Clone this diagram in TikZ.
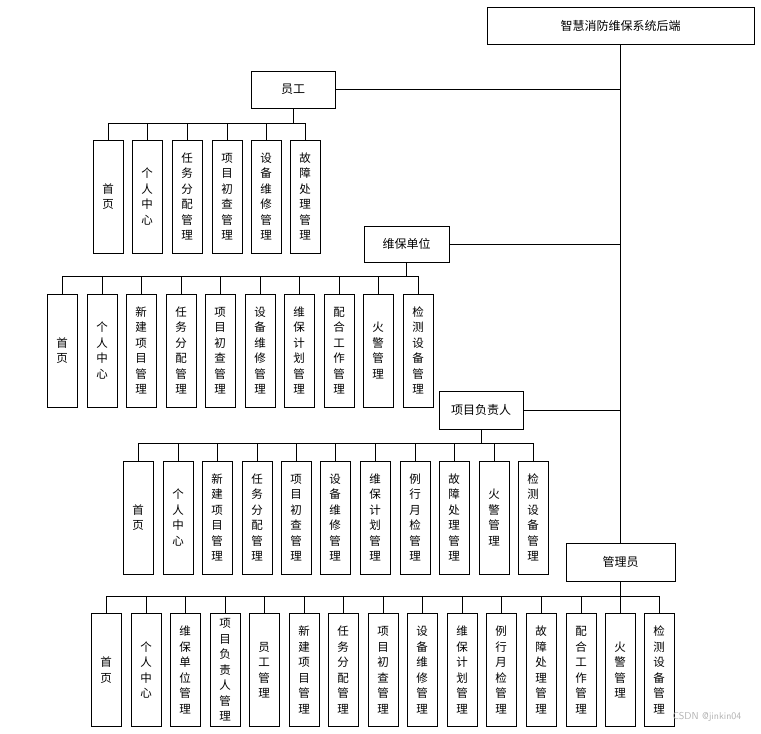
\documentclass[tikz,border=0pt]{standalone}
\usepackage{fontspec}
\newfontfamily\cjk{Noto Sans CJK SC}
\begin{document}
\begin{tikzpicture}[x=1pt,y=-1pt,
  hbox/.style={draw,line width=0.9pt,font=\cjk\fontsize{12}{14}\selectfont,inner sep=0pt},
  vbox/.style={draw,line width=0.9pt,minimum width=30pt,minimum height=113pt,inner sep=0pt,align=center,font=\cjk\fontsize{11.5}{15.5}\selectfont},
  ln/.style={line width=0.9pt}]
\useasboundingbox (0,0) rectangle (761,734);
\node[hbox,minimum width=267pt,minimum height=37pt] (top) at (620.5,25.5) {智慧消防维保系统后端};
\node[hbox,minimum width=84pt,minimum height=37pt] (emp) at (293,89.5) {员工};
\node[hbox,minimum width=85pt,minimum height=36pt] (wb) at (406.5,244) {维保单位};
\node[hbox,minimum width=84pt,minimum height=38pt] (pm) at (481,410) {项目负责人};
\node[hbox,minimum width=109pt,minimum height=38pt] (adm) at (620.5,562) {管理员};
\draw[ln] (top.south) -- (adm.north);
\foreach \p in {emp,wb,pm}{\draw[ln] (\p.east) -- (\p.east -| top.south);}
% employee
\coordinate (eb) at (293,123);
\foreach \x/\t [count=\i] in {108/{首\\页},147/{个\\人\\中\\心},187/{任\\务\\分\\配\\管\\理},227/{项\\目\\初\\查\\管\\理},266/{设\\备\\维\\修\\管\\理},305/{故\\障\\处\\理\\管\\理}}{
  \node[vbox] (e\i) at (\x,196.5) {\t};
  \draw[ln] (emp.south) -- (eb) -| (e\i.north);}
% wb
\coordinate (wbb) at (406.5,276);
\foreach \x/\t [count=\i] in {62/{首\\页},102/{个\\人\\中\\心},141/{新\\建\\项\\目\\管\\理},181/{任\\务\\分\\配\\管\\理},220/{项\\目\\初\\查\\管\\理},260/{设\\备\\维\\修\\管\\理},299/{维\\保\\计\\划\\管\\理},339/{配\\合\\工\\作\\管\\理},378/{火\\警\\管\\理},418/{检\\测\\设\\备\\管\\理}}{
  \node[vbox] (w\i) at (\x,350.5) {\t};
  \draw[ln] (wb.south) -- (wbb) -| (w\i.north);}
% pm
\coordinate (pmb) at (481,443);
\foreach \x/\t [count=\i] in {138/{首\\页},178/{个\\人\\中\\心},217/{新\\建\\项\\目\\管\\理},257/{任\\务\\分\\配\\管\\理},296/{项\\目\\初\\查\\管\\理},335/{设\\备\\维\\修\\管\\理},375/{维\\保\\计\\划\\管\\理},415/{例\\行\\月\\检\\管\\理},454/{故\\障\\处\\理\\管\\理},494/{火\\警\\管\\理},533/{检\\测\\设\\备\\管\\理}}{
  \node[vbox] (p\i) at (\x,517.5) {\t};
  \draw[ln] (pm.south) -- (pmb) -| (p\i.north);}
% admin
\coordinate (ab) at (620.5,596);
\foreach \x/\t [count=\i] in {106/{首\\页},146/{个\\人\\中\\心},185/{维\\保\\单\\位\\管\\理},225/{项\\目\\负\\责\\人\\管\\理},264/{员\\工\\管\\理},304/{新\\建\\项\\目\\管\\理},343/{任\\务\\分\\配\\管\\理},383/{项\\目\\初\\查\\管\\理},422/{设\\备\\维\\修\\管\\理},462/{维\\保\\计\\划\\管\\理},501/{例\\行\\月\\检\\管\\理},541/{故\\障\\处\\理\\管\\理},581/{配\\合\\工\\作\\管\\理},620/{火\\警\\管\\理},659/{检\\测\\设\\备\\管\\理}}{
  \node[vbox] (a\i) at (\x,670) {\t};
  \draw[ln] (adm.south) -- (ab) -| (a\i.north);}
\node[text=gray!60,font=\sffamily\fontsize{10}{12}\selectfont,anchor=east] (wm) at (745,717) {CSDN @jinkin04};
\end{tikzpicture}
\end{document}
